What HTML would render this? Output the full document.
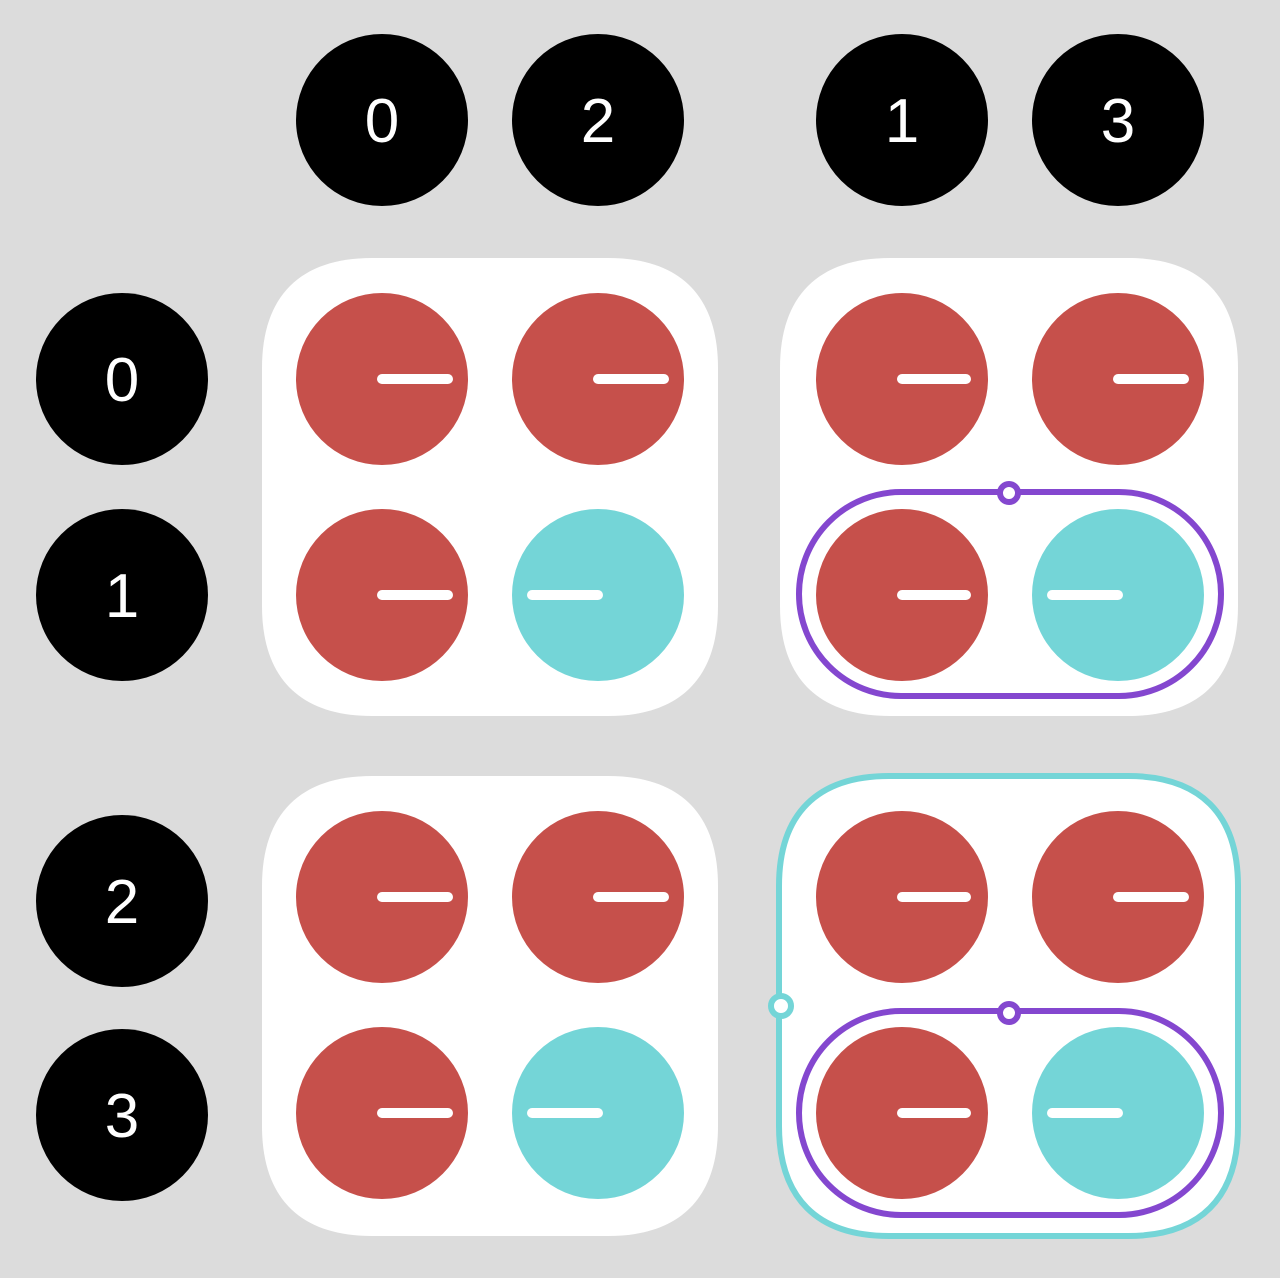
<!DOCTYPE html>
<html><head><style>html,body{margin:0;padding:0;background:#dcdcdc}svg{display:block}</style></head><body>
<svg width="1280" height="1278" viewBox="0 0 1280 1278" xmlns="http://www.w3.org/2000/svg">
<rect width="1280" height="1278" fill="#dcdcdc"/>
<g fill="#000">
<circle cx="382" cy="120" r="86"/><circle cx="598" cy="120" r="86"/><circle cx="902" cy="120" r="86"/><circle cx="1118" cy="120" r="86"/>
<circle cx="122" cy="379" r="86"/><circle cx="122" cy="595" r="86"/><circle cx="122" cy="901" r="86"/><circle cx="122" cy="1115" r="86"/>
</g>
<g fill="#fff" font-family="Liberation Sans, sans-serif" font-size="62" text-anchor="middle">
<text x="382" y="142">0</text><text x="598" y="142">2</text><text x="902" y="142">1</text><text x="1118" y="142">3</text>
<text x="122" y="401">0</text><text x="122" y="617">1</text><text x="122" y="923">2</text><text x="122" y="1137">3</text>
</g>
<g fill="#fff">
<path d="M372,258 H608 C680,258 718,296 718,368 V606 C718,678 680,716 608,716 H372 C300,716 262,678 262,606 V368 C262,296 300,258 372,258Z"/>
<path d="M890,258 H1128 C1200,258 1238,296 1238,368 V606 C1238,678 1200,716 1128,716 H890 C818,716 780,678 780,606 V368 C780,296 818,258 890,258Z"/>
<path d="M372,776 H608 C680,776 718,814 718,886 V1126 C718,1198 680,1236 608,1236 H372 C300,1236 262,1198 262,1126 V886 C262,814 300,776 372,776Z"/>
</g>
<path d="M889,776 H1128 C1200,776 1238,814 1238,886 V1126 C1238,1198 1200,1236 1128,1236 H889 C817,1236 779,1198 779,1126 V886 C779,814 817,776 889,776Z" fill="#fff" stroke="#74d5d7" stroke-width="6"/>
<circle cx="781" cy="1006" r="10" fill="#fff" stroke="#74d5d7" stroke-width="6"/>
<g fill="#c6504b">
<circle cx="382" cy="379" r="86"/><circle cx="598" cy="379" r="86"/><circle cx="382" cy="595" r="86"/>
<circle cx="902" cy="379" r="86"/><circle cx="1118" cy="379" r="86"/><circle cx="902" cy="595" r="86"/>
<circle cx="382" cy="897" r="86"/><circle cx="598" cy="897" r="86"/><circle cx="382" cy="1113" r="86"/>
<circle cx="902" cy="897" r="86"/><circle cx="1118" cy="897" r="86"/><circle cx="902" cy="1113" r="86"/>
</g>
<g fill="#74d5d7">
<circle cx="598" cy="595" r="86"/><circle cx="1118" cy="595" r="86"/><circle cx="598" cy="1113" r="86"/><circle cx="1118" cy="1113" r="86"/>
</g>
<g stroke="#fff" stroke-width="10" stroke-linecap="round">
<line x1="382" y1="379" x2="448" y2="379"/><line x1="598" y1="379" x2="664" y2="379"/><line x1="382" y1="595" x2="448" y2="595"/><line x1="532" y1="595" x2="598" y2="595"/>
<line x1="902" y1="379" x2="966" y2="379"/><line x1="1118" y1="379" x2="1184" y2="379"/><line x1="902" y1="595" x2="966" y2="595"/><line x1="1052" y1="595" x2="1118" y2="595"/>
<line x1="382" y1="897" x2="448" y2="897"/><line x1="598" y1="897" x2="664" y2="897"/><line x1="382" y1="1113" x2="448" y2="1113"/><line x1="532" y1="1113" x2="598" y2="1113"/>
<line x1="902" y1="897" x2="966" y2="897"/><line x1="1118" y1="897" x2="1184" y2="897"/><line x1="902" y1="1113" x2="966" y2="1113"/><line x1="1052" y1="1113" x2="1118" y2="1113"/>
</g>
<g fill="none" stroke="#8447cf" stroke-width="6">
<rect x="799" y="492" width="422" height="204" rx="102"/>
<rect x="799" y="1011" width="422" height="204" rx="102"/>
</g>
<g fill="#fff" stroke="#8447cf" stroke-width="6">
<circle cx="1009" cy="493" r="9"/><circle cx="1009" cy="1013" r="9"/>
</g>
</svg>
</body></html>
